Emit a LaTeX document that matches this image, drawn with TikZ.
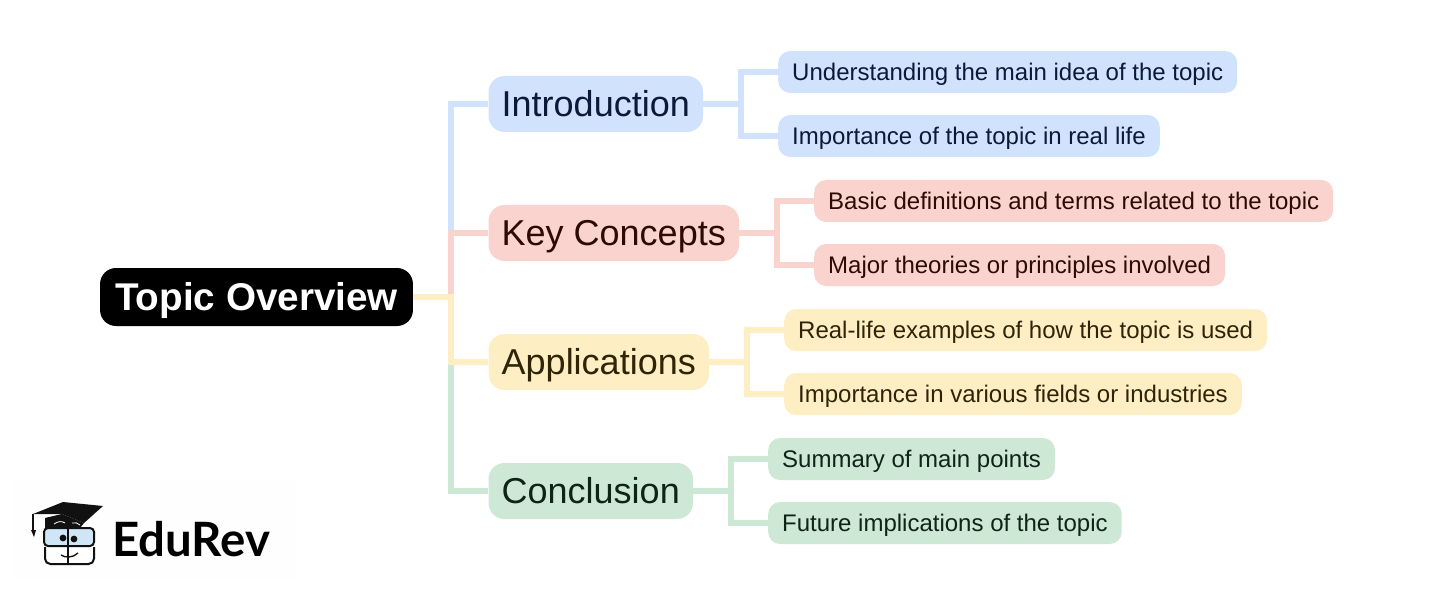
\documentclass[tikz,border=0pt]{standalone}
\usepackage{fontspec}
\setmainfont{Liberation Sans}
\newfontfamily\logofont{Lato}
\usetikzlibrary{positioning}
\definecolor{introfill}{HTML}{D1E2FD}
\definecolor{introtext}{HTML}{0A1A38}
\definecolor{keyfill}{HTML}{FBD3CE}
\definecolor{keytext}{HTML}{2E0A06}
\definecolor{appfill}{HTML}{FEEEC3}
\definecolor{apptext}{HTML}{2E2408}
\definecolor{endfill}{HTML}{CEE8D6}
\definecolor{endtext}{HTML}{0E2416}
\definecolor{capblack}{HTML}{111111}
\definecolor{glassblue}{HTML}{CFE6F7}
\definecolor{logoback}{HTML}{FEFEFE}
\tikzset{
	root node/.style={fill=black,text=white,rounded corners=12pt,inner xsep=11.25pt,inner ysep=0pt,
		minimum height=43.5pt,text height=21.75pt,text depth=1.25pt,
		font=\fontsize{29}{30}\selectfont\bfseries},
	main node/.style={rounded corners=12pt,inner xsep=9.9pt,inner ysep=0pt,
		minimum height=42pt,text height=20.5pt,text depth=1.25pt,
		font=\fontsize{27}{30}\selectfont},
	sub node/.style={rounded corners=9pt,inner xsep=10.5pt,inner ysep=0pt,
		minimum height=31.5pt,text height=14pt,text depth=1.25pt,
		font=\fontsize{18}{20}\selectfont},
	intro/.style={fill=introfill,text=introtext},
	key/.style={fill=keyfill,text=keytext},
	app/.style={fill=appfill,text=apptext},
	end/.style={fill=endfill,text=endtext},
	elbow/.style={line width=4.5pt,to path={(\tikztostart.east) -- ++(28.3pt,0) |- (\tikztotarget.west)}}
}
\begin{document}
\begin{tikzpicture}[x=0.75pt,y=-0.75pt,node distance=56pt]
	\useasboundingbox (0,0) rectangle (1433,595);

	\node[root node] (T) at (256.5,297) {Topic Overview};
	\node[main node,intro] (A) [right=56.25pt of T,yshift=144.75pt] {Introduction};
	\node[main node,key] (B) [right=56.25pt of T,yshift=48pt] {Key Concepts};
	\node[main node,app] (C) [right=56.25pt of T,yshift=-48.75pt] {Applications};
	\node[main node,end] (D) [right=56.25pt of T,yshift=-145.5pt] {Conclusion};

	\node[sub node,intro] (A1) [right=of A,yshift=24pt] {Understanding the main idea of the topic};
	\node[sub node,intro] (A2) [right=of A,yshift=-24pt] {Importance of the topic in real life};
	\node[sub node,key] (B1) [right=of B,yshift=24pt] {Basic definitions and terms related to the topic};
	\node[sub node,key] (B2) [right=of B,yshift=-24pt] {Major theories or principles involved};
	\node[sub node,app] (C1) [right=of C,yshift=24pt] {Real-life examples of how the topic is used};
	\node[sub node,app] (C2) [right=of C,yshift=-24pt] {Importance in various fields or industries};
	\node[sub node,end] (D1) [right=of D,yshift=24pt] {Summary of main points};
	\node[sub node,end] (D2) [right=of D,yshift=-24pt] {Future implications of the topic};

	\path[elbow,draw=introfill]
	(T) edge (A)
	(A) edge (A1)
	(A) edge (A2);
	\path[elbow,draw=keyfill]
	(T) edge (B)
	(B) edge (B1)
	(B) edge (B2);
	\path[elbow,draw=endfill]
	(T) edge (D)
	(D) edge (D1)
	(D) edge (D2);
	\path[elbow,draw=appfill]
	(T) edge (C)
	(C) edge (C1)
	(C) edge (C2);

	% logo
	\fill[logoback] (12,480) rectangle (295,580);
	\node[inner sep=0pt,anchor=west,text=black,font=\logofont\fontsize{35.5}{36}\selectfont\bfseries] (L) at (112,539) {EduRev};
	\fill[capblack] (33,514) -- (63,502) -- (103,506) -- (84,523) -- (62,514) -- cycle;
	\fill[capblack] (45,518) -- (62,514) -- (84,523) -- (80,528) -- (45,528) -- cycle;
	\draw[white,line width=0.6pt] (54,524) .. controls (58,521) and (62,521) .. (65,523);
	\draw[white,line width=0.6pt] (72,523) .. controls (75,522) and (78,523) .. (80,525);
	\draw[capblack,line width=1pt] (33,514) -- (33,530);
	\fill[capblack] (31,530) -- (36,530) -- (34,537) -- cycle;
	\draw[capblack,line width=1.5pt,fill=glassblue,rounded corners=3pt] (44,528) rectangle (94,546);
	\draw[capblack,line width=1.5pt,rounded corners=4pt] (45,547) -- (45,564) -- (94,564) -- (94,547);
	\draw[capblack,line width=1.5pt] (68,527) -- (68,564);
	\fill[capblack] (63,538) circle (3.4);
	\fill[capblack] (74,539) circle (3.4);
	\draw[capblack,line width=1pt] (61,555) .. controls (65,558) and (73,558) .. (78,553);
\end{tikzpicture}
\end{document}
